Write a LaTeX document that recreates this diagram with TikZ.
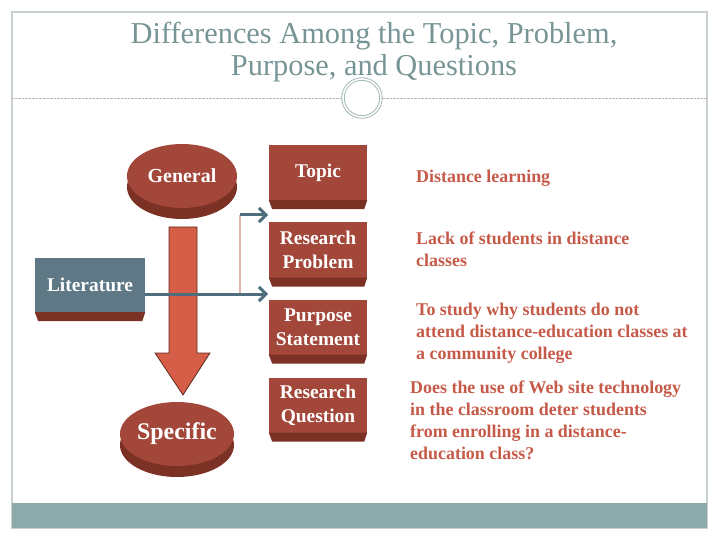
\documentclass[tikz,border=0pt]{standalone}
\usepackage{fontspec}
\setmainfont{Liberation Serif}
\usetikzlibrary{arrows.meta,shapes.geometric}

\definecolor{boxred}{HTML}{A2473A}
\definecolor{bevelred}{HTML}{7B3124}
\definecolor{litblue}{HTML}{5E7886}
\definecolor{bigarrow}{HTML}{D65E48}
\definecolor{arrowedge}{HTML}{5A2A20}
\definecolor{connblue}{HTML}{4E6E7E}
\definecolor{forkpink}{HTML}{DDB8B1}
\definecolor{notered}{HTML}{C65A48}
\definecolor{titlegray}{HTML}{789595}
\definecolor{barteal}{HTML}{8AABAA}
\definecolor{framegray}{HTML}{C8D0D0}

\begin{document}
\begin{tikzpicture}[x=1bp,y=-1bp,
  block/.style={rectangle,fill=boxred,text=white,inner sep=0pt,
    minimum width=98bp,minimum height=55bp,align=center,
    font=\fontsize{19.5}{24}\selectfont\bfseries},
  disc/.style={ellipse,fill=boxred,text=white,inner sep=0pt,
    font=\fontsize{20}{24}\selectfont\bfseries},
  note/.style={anchor=west,inner sep=0pt,align=left,text=notered,
    font=\fontsize{18}{22}\selectfont\bfseries},
  conn/.style={draw=connblue,line width=3bp,-{Straight Barb[length=7bp,width=14bp]}}]
  \useasboundingbox (0,0) rectangle (720,540);
  % slide frame, title and footer bar
  \draw[framegray,line width=1.2bp] (12,12) rectangle (707,528);
  \fill[barteal] (12,503) rectangle (707,528);
  \node[text=titlegray,align=center,font=\fontsize{30.5}{33}\selectfont] (head) at (374,52)
    {Differences Among the Topic, Problem,\\Purpose, and Questions};
  \node[circle,draw=titlegray!70,double,double distance=1.6bp,line width=0.9bp,
    minimum size=38bp,inner sep=0pt] (orn) at (362,98) {};
  \coordinate (ruleL) at (12,98);
  \coordinate (ruleR) at (707,98);
  \draw[gray!60,densely dotted] (ruleL) -- (orn.west);
  \draw[gray!60,densely dotted] (orn.east) -- (ruleR);

  % general / specific discs and the big arrow
  \fill[bevelred] (182,187) ellipse (55 and 32);
  \node[disc,minimum width=110bp,minimum height=64bp] (general) at (182,176) {General};
  \fill[bevelred] (177,445) ellipse (57 and 32);
  \node[disc,minimum width=114bp,minimum height=64bp,font=\fontsize{24}{28}\selectfont\bfseries]
    (specific) at (177,434) {Specific};
  \filldraw[fill=bigarrow,draw=arrowedge,line width=0.8bp]
    (169,227) -- (197,227) -- (197,353) -- (210,353) -- (183,395)
    -- (155,353) -- (169,353) -- cycle;

  % literature
  \node[block,fill=litblue,minimum width=110bp,minimum height=54bp] (lit) at (90,285) {Literature};
  \fill[bevelred] (lit.south west) -- (lit.south east) -- ++(-3,9) -- ++(-104,0) -- cycle;

  % the four boxes
  \node[block] (topic) at (318,172.5) {Topic};
  \fill[bevelred] (topic.south west) -- (topic.south east) -- ++(-3,9) -- ++(-92,0) -- cycle;
  \node[block] (problem) at (318,250) {Research\\Problem};
  \fill[bevelred] (problem.south west) -- (problem.south east) -- ++(-3,9) -- ++(-92,0) -- cycle;
  \node[block] (purpose) at (318,327) {Purpose\\Statement};
  \fill[bevelred] (purpose.south west) -- (purpose.south east) -- ++(-3,9) -- ++(-92,0) -- cycle;
  \node[block] (question) at (318,405) {Research\\Question};
  \fill[bevelred] (question.south west) -- (question.south east) -- ++(-3,9) -- ++(-92,0) -- cycle;

  % connectors
  \coordinate (fork) at (240,294);
  \coordinate (up) at (240,215);
  \coordinate (tipA) at (268,215);
  \coordinate (tipB) at (268,294);
  \draw[forkpink,line width=1.5bp] (fork) -- (up);
  \draw[conn] (up) -- (tipA);
  \draw[conn] (lit.east |- fork) -- (tipB);

  % examples
  \node[note] (t1) at (416,178.5) {Distance learning};
  \node[note] (t2) at (416,249) {Lack of students in distance\\classes};
  \node[note] (t3) at (416,333) {To study why students do not\\attend distance-education classes at\\a community college};
  \node[note] (t4) at (410,420) {Does the use of Web site technology\\in the classroom deter students\\from enrolling in a distance-\\education class?};
\end{tikzpicture}
\end{document}
